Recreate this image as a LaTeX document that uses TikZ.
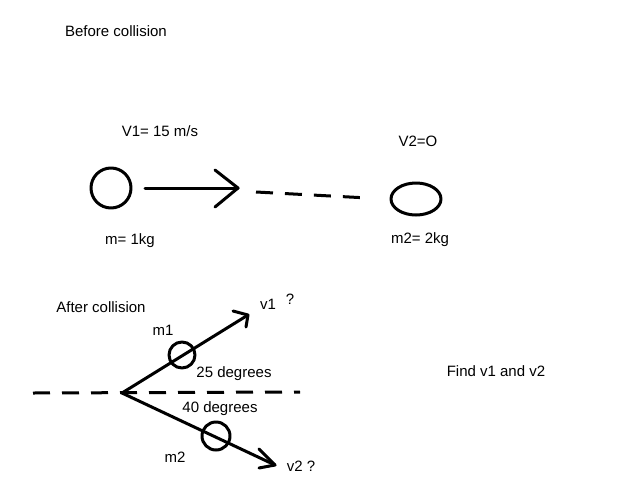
\documentclass[tikz,border=0pt]{standalone}
\usepackage{fontspec}
\setmainfont{Liberation Sans}
\begin{document}
\begin{tikzpicture}[x=1pt,y=-1pt,
  lbl/.style={font=\fontsize{15}{17}\selectfont,inner sep=0pt},
  ink/.style={line width=3pt,line cap=round,line join=round},
  dsh/.style={line width=3pt,dash pattern=on 17pt off 12pt}]
\useasboundingbox (0,0) rectangle (640,480);
\node[lbl] (t1) at (116,31) {Before collision};
\node[lbl] (t2) at (160,131) {V1= 15 m/s};
\node[lbl] (t3) at (418,141) {V2=O};
\node[lbl] (t4) at (130,241) {m= 1kg};
\node[lbl] (t5) at (420,240) {m2= 2kg};
\node[lbl] (t6) at (101,307) {After collision};
\node[lbl] (t7) at (268,304) {v1};
\node[lbl] (t7b) at (290,299) {?};
\node[lbl] (t8) at (163,330) {m1};
\node[lbl] (t9) at (234,374) {25 degrees};
\node[lbl] (t10) at (220,409) {40 degrees};
\node[lbl] (t11) at (175,457) {m2};
\node[lbl] (t12) at (301,466) {v2 ?};
\node[lbl] (t13) at (496,371) {Find v1 and v2};
% top
\draw[ink] (111,188) circle (20);
\coordinate (a1) at (145,188); \coordinate (a2) at (238,188);
\draw[ink] (a1) -- (a2);
\draw[ink] (215,170) -- (a2) -- (215,207);
\coordinate (d1) at (256,192); \coordinate (d2) at (368,198);
\draw[dsh] (d1) -- (d2);
\draw[ink] (416,199) ellipse (25 and 16);
% bottom
\coordinate (o) at (122,393);
\coordinate (l1) at (33,393); \coordinate (l2) at (300,392);
\draw[dsh] (l1) -- (l2);
\coordinate (e1) at (248,315);
\coordinate (e2) at (275,465);
\draw[ink] (o) -- (e1);
\draw[ink] (233,311) -- (e1) -- (246,327);
\draw[ink] (o) -- (e2);
\draw[ink] (259,449) -- (e2) -- (259,468);
\draw[ink] (182,355) circle (13);
\draw[ink] (216,436) circle (14);
\end{tikzpicture}
\end{document}
